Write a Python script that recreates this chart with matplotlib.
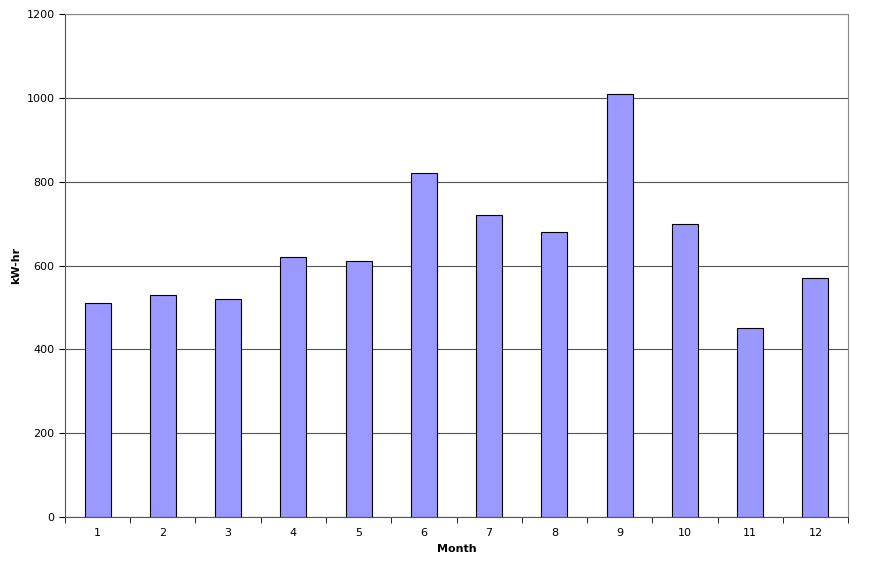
import numpy as np
import matplotlib.pyplot as plt

months = [str(m) for m in range(1, 13)]
kwh = [510, 530, 520, 620, 610, 820, 720, 680, 1010, 700, 450, 570]

fig = plt.figure(figsize=(8.96, 5.70), dpi=100)
ax = fig.add_axes([0.0725, 0.093, 0.874, 0.882])

x = np.arange(len(months))
ax.bar(x, kwh, width=0.4, color='#9999FF', edgecolor='black', linewidth=0.8, zorder=3)

ax.set_xlim(-0.5, len(months) - 0.5)
ax.set_ylim(0, 1200)
ax.set_yticks(range(0, 1201, 200))
ax.yaxis.grid(True, color='#555555', linewidth=0.8, zorder=0)

ax.set_xticks(x)
ax.set_xticklabels(months, fontsize=8)
ax.set_xticks(np.arange(-0.5, len(months)), minor=True)
ax.tick_params(axis='x', which='major', length=0, pad=8)
ax.tick_params(axis='x', which='minor', length=4, direction='out')
ax.tick_params(axis='y', labelsize=8, length=4)

for side in ['top', 'right']:
    ax.spines[side].set_color('#888888')
for side in ['left', 'bottom']:
    ax.spines[side].set_color('#555555')

ax.set_xlabel('Month', fontsize=8, fontweight='bold')
ax.set_ylabel('kW-hr', fontsize=8, fontweight='bold')

fig.savefig('out.png', dpi=100)
